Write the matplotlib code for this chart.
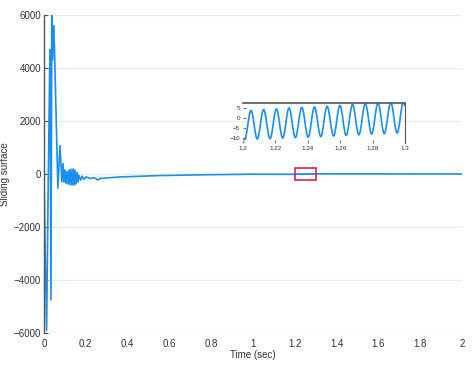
import matplotlib
matplotlib.use("Agg")
import matplotlib.pyplot as plt
from matplotlib.patches import Rectangle, PathPatch
from matplotlib.path import Path

plt.rcParams['font.family'] = ['Liberation Sans', 'DejaVu Sans']

# ---- data ----
t_early = [0.0, 0.006, 0.0125, 0.02, 0.0285, 0.0335, 0.0375, 0.041, 0.0475, 0.0665, 0.0765, 0.0855,
           0.091, 0.096, 0.100, 0.105, 0.110, 0.115, 0.120, 0.124, 0.129, 0.134, 0.139, 0.144,
           0.148, 0.153, 0.158, 0.163, 0.167, 0.175, 0.182, 0.191, 0.201, 0.22, 0.24, 0.258,
           0.268, 0.36, 0.55, 0.8, 1.0, 1.2]
s_early = [0, -3000, -5900, -500, 4700, -4750, 6800, 4300, 5600, -530, 1070, -290,
           400, -300, 150, -350, 100, -380, 150, -400, 180, -420, 190, -420,
           150, -380, 60, -300, -50, -230, -80, -200, -110, -170, -140, -226,
           -170, -113, -60, -25, -8, -3]

t_peaks = [1.2049, 1.2127, 1.2206, 1.2284, 1.2363, 1.2441, 1.2519, 1.2598, 1.2676,
           1.2755, 1.2833, 1.2912, 1.2990]
s_peaks = [3.8, 4.2, 4.5, 5.0, 5.3, 5.5, 5.8, 6.3, 6.8, 7.2, 7.5, 7.8, 8.0]
t_troughs = [1.2010, 1.2088, 1.2167, 1.2245, 1.2323, 1.2402, 1.2480, 1.2559, 1.2637,
             1.2715, 1.2794, 1.2872, 1.2951]
s_troughs = [-10.8, -10.5, -10.3, -10.0, -9.8, -9.6, -9.3, -9.0, -8.7, -8.4, -8.0, -7.8, -7.5]

t_late = [1.3000, 1.4, 1.6, 1.8, 2.0]
s_late = [6.0, 3, 3, 2, 0]

xticks = [0, 0.2, 0.4, 0.6, 0.8, 1, 1.2, 1.4, 1.6, 1.8, 2]
xticklabels = ['0', '0.2', '0.4', '0.6', '0.8', '1', '1.2', '1.4', '1.6', '1.8', '2']
yticks = [-6000, -4000, -2000, 0, 2000, 4000, 6000]
inset_xticks = [1.2, 1.22, 1.24, 1.26, 1.28, 1.3]
inset_xticklabels = ['1.2', '1.22', '1.24', '1.26', '1.28', '1.3']
inset_yticks = [-10, -5, 0, 5]

# build the full series
osc_t, osc_s = [], []
for i in range(len(t_troughs)):
    osc_t += [t_troughs[i], t_peaks[i]]
    osc_s += [s_troughs[i], s_peaks[i]]
t_all = t_early[:-1] + osc_t + t_late
s_all = s_early[:-1] + osc_s + s_late

blue = '#1a8ff0'
txt = '#333333'

fig = plt.figure(figsize=(4.74, 3.66), dpi=100)
ax = fig.add_axes([0.0928, 0.0902, 0.8819, 0.8688])
ax.plot(t_all, s_all, color=blue, lw=1.2, solid_joinstyle='round')
ax.set_xlim(0, 2)
ax.set_ylim(-6000, 6000)
ax.set_xticks(xticks)
ax.set_xticklabels(xticklabels)
ax.set_yticks(yticks)
ax.set_xticks([0.4, 0.8, 1.2, 1.6], minor=True)
for side in ['top', 'right', 'bottom']:
    ax.spines[side].set_visible(False)
ax.spines['left'].set_color('#555555')
ax.spines['left'].set_linewidth(1.0)
ax.tick_params(axis='x', which='major', length=0, labelsize=7, colors=txt, pad=4)
ax.tick_params(axis='x', which='minor', length=3, direction='in', top=True, bottom=True,
               color='#777777', width=0.8)
ax.tick_params(axis='y', which='major', length=3, direction='in', labelsize=7, colors=txt,
               color='#555555', pad=2)
ax.yaxis.grid(True, color='#ececec', lw=0.8)
ax.set_axisbelow(True)
ax.set_xlabel('Time (sec)', fontsize=7, color=txt, labelpad=1)
ax.set_ylabel('Sliding surface', fontsize=7, color=txt, labelpad=3)

ax.add_patch(Rectangle((1.2, -230), 0.1, 460, fill=False, edgecolor='#e0204a', lw=1.2, zorder=5))

# inset: the same series, drawn with smooth Bezier segments between its extrema
axi = fig.add_axes([0.5127, 0.6093, 0.3418, 0.1093])
ext_t = [1.2] + osc_t + [1.3]
ext_s = [-10.2] + osc_s + [6.0]
verts = [(ext_t[0], ext_s[0])]
codes = [Path.MOVETO]
for i in range(1, len(ext_t)):
    t0, v0 = ext_t[i - 1], ext_s[i - 1]
    t1, v1 = ext_t[i], ext_s[i]
    d = 0.36 * (t1 - t0)
    verts += [(t0 + d, v0), (t1 - d, v1), (t1, v1)]
    codes += [Path.CURVE4] * 3
axi.add_patch(PathPatch(Path(verts, codes), fill=False, edgecolor=blue, lw=1.2,
                        joinstyle='round', clip_on=True))
axi.set_xlim(1.2, 1.3)
axi.set_ylim(-12.5, 7.5)
axi.set_xticks(inset_xticks)
axi.set_xticklabels(inset_xticklabels)
axi.set_yticks(inset_yticks)
axi.patch.set_alpha(0)
axi.spines['left'].set_visible(False)
axi.spines['bottom'].set_visible(False)
axi.spines['top'].set_color('#555555')
axi.spines['top'].set_linewidth(1.2)
axi.spines['right'].set_color('#555555')
axi.spines['right'].set_linewidth(0.8)
axi.tick_params(axis='both', labelsize=4.5, colors=txt, length=2, direction='in', pad=2,
                color='#777777')

fig.savefig('out.png', dpi=100)
